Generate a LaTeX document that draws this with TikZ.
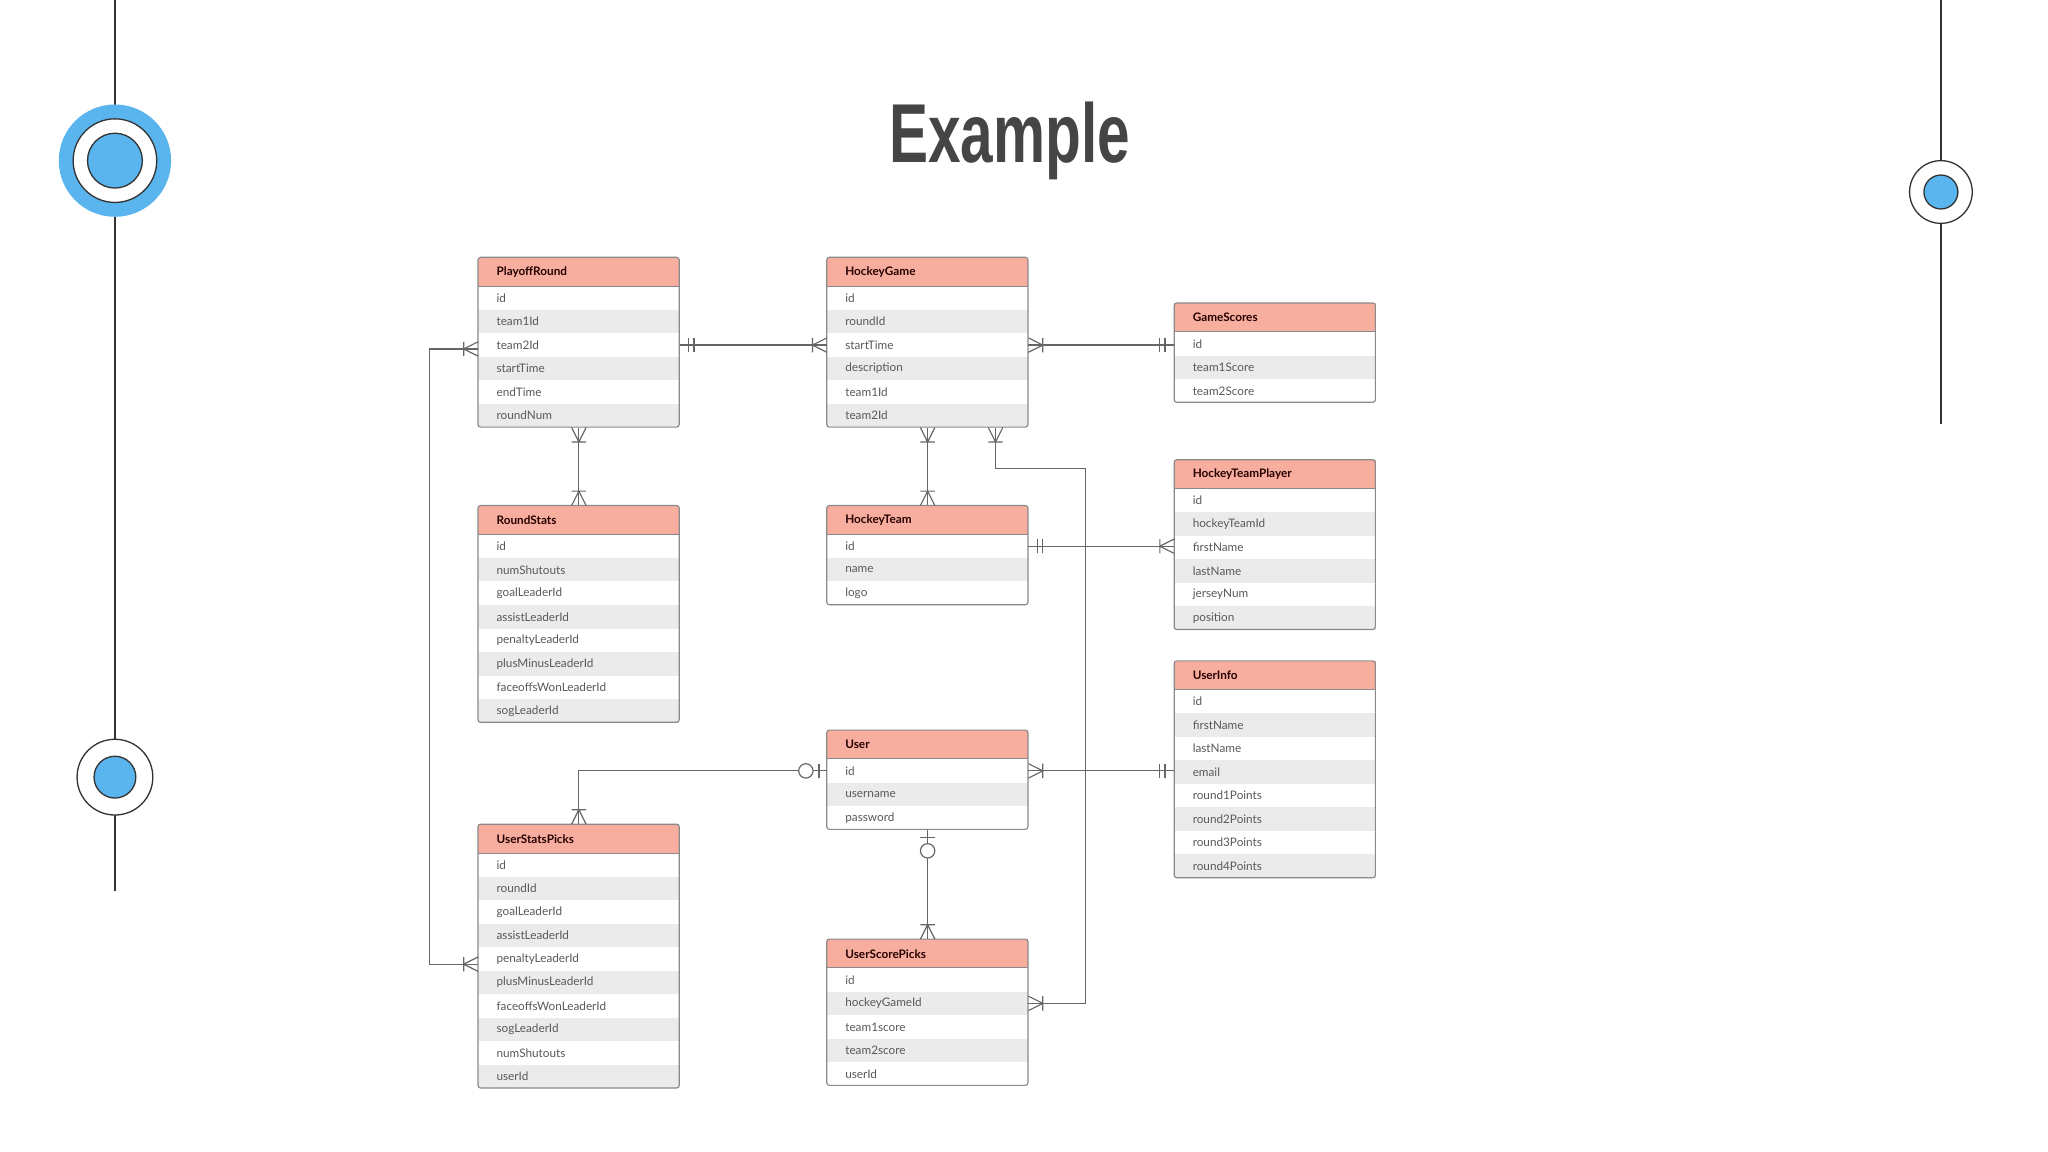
\documentclass[tikz,border=0pt]{standalone}
\usepackage{fontspec}
\setmainfont{Lato}
\newfontfamily\titlefont{Liberation Sans}
\definecolor{salmon}{HTML}{F7AE9E}
\definecolor{rowgray}{HTML}{EBEBEB}
\definecolor{bord}{HTML}{8A8A8A}
\definecolor{lnk}{HTML}{666666}
\definecolor{dec}{HTML}{333333}
\definecolor{blu}{HTML}{5AB4EE}
\definecolor{ttl}{HTML}{454545}
\tikzset{
 hdr/.style={anchor=north west,minimum width=154pt,minimum height=22pt,inner xsep=14pt,text width=126pt,inner ysep=0pt,fill=salmon,font=\fontsize{9}{10}\selectfont\bfseries,text=black!75!red!60!black},
 rowc/.style={anchor=north west,minimum width=154pt,minimum height=18pt,inner xsep=14pt,text width=126pt,inner ysep=0pt,font=\fontsize{9}{10}\selectfont,text=black!65},
 lk/.style={draw=lnk,line width=0.9pt},
}
\newcommand\ertable[5]{%
 \node[hdr] (#1) at (#2,#3) {#4};
 \foreach \t [count=\i] in {#5} {
   \ifodd\i\relax
     \node[rowc,fill=white] (#1-\i) at ({#2},{#3+22+(\i-1)*18}) {\t};
   \else
     \node[rowc,fill=rowgray] (#1-\i) at ({#2},{#3+22+(\i-1)*18}) {\t};
   \fi
   \xdef\nrows{\i}
 }
 \draw[bord,line width=0.6pt] (#2,#3+22) -- (#2+154,#3+22);
 \draw[bord,line width=0.9pt,rounded corners=2pt] (#2,#3) rectangle (#2+154,{#3+22+\nrows*18});
}
% notation: #1 point, #2 canvas angle pointing away from entity
\newcommand\crowm[2]{\begin{scope}[shift={#1},rotate=#2]
 \draw[lk] (0,5.5)--(11,0)--(0,-5.5) (11,5.5)--(11,-5.5);\end{scope}}
\newcommand\oneone[2]{\begin{scope}[shift={#1},rotate=#2]
 \draw[lk] (7,5.5)--(7,-5.5) (11,5.5)--(11,-5.5);\end{scope}}
\newcommand\zeroone[2]{\begin{scope}[shift={#1},rotate=#2]
 \draw[lk] (6,5.5)--(6,-5.5); \draw[lk,fill=white] (16,0) circle[radius=5.5pt];\end{scope}}
\begin{document}
\begin{tikzpicture}[x=1pt,y=-1pt]
\useasboundingbox (0,0) rectangle (1568,882);
\fill[white] (0,0) rectangle (1568,882);
% decorations
\draw[dec,line width=1pt] (88,0) -- (88,682);
\fill[blu] (88,123) circle[radius=43pt];
\draw[dec,fill=white,line width=1pt] (88,123) circle[radius=32pt];
\draw[dec,fill=blu,line width=1pt] (88,123) circle[radius=21pt];
\draw[dec,fill=white,line width=1pt] (88,595) circle[radius=29pt];
\draw[dec,fill=blu,line width=1pt] (88,595) circle[radius=16pt];
\draw[dec,line width=1pt] (1486,0) -- (1486,325);
\draw[dec,fill=white,line width=1pt] (1486,147) circle[radius=24pt];
\draw[dec,fill=blu,line width=1pt] (1486,147) circle[radius=13pt];
\node[text=ttl,font=\titlefont\bfseries\fontsize{64}{64}\selectfont] (title) at (773,108) {\scalebox{0.70}[1]{Example}};
% tables
\ertable{PR}{366}{197}{PlayoffRound}{id,team1Id,team2Id,startTime,endTime,roundNum}
\ertable{HG}{633}{197}{HockeyGame}{id,roundId,startTime,description,team1Id,team2Id}
\ertable{GS}{899}{232}{GameScores}{id,team1Score,team2Score}
\ertable{RS}{366}{387}{RoundStats}{id,numShutouts,goalLeaderId,assistLeaderId,penaltyLeaderId,plusMinusLeaderId,faceoffsWonLeaderId,sogLeaderId}
\ertable{HT}{633}{387}{HockeyTeam}{id,name,logo}
\ertable{HTP}{899}{352}{HockeyTeamPlayer}{id,hockeyTeamId,firstName,lastName,jerseyNum,position}
\ertable{UI}{899}{506}{UserInfo}{id,firstName,lastName,email,round1Points,round2Points,round3Points,round4Points}
\ertable{U}{633}{559}{User}{id,username,password}
\ertable{USP}{366}{631}{UserStatsPicks}{id,roundId,goalLeaderId,assistLeaderId,penaltyLeaderId,plusMinusLeaderId,faceoffsWonLeaderId,sogLeaderId,numShutouts,userId}
\ertable{USC}{633}{719}{UserScorePicks}{id,hockeyGameId,team1score,team2score,userId}
\coordinate (hgb) at ([xshift=52pt]HG-6.south);
% connectors
\draw[lk] (PR-3.east) -- (HG-3.west);
\oneone{(PR-3.east)}{0}\crowm{(HG-3.west)}{180}
\draw[lk] (HG-3.east) -- (HG-3.east -| GS-1.west);
\crowm{(HG-3.east)}{0}\oneone{(HG-3.east -| GS-1.west)}{180}
\draw[lk] (PR-6.south) -- (RS.north);
\crowm{(PR-6.south)}{-90}\crowm{(RS.north)}{90}
\draw[lk] (HG-6.south) -- (HT.north);
\crowm{(HG-6.south)}{-90}\crowm{(HT.north)}{90}
\draw[lk] (hgb) -- ++(0,31) -- ++(69,0) |- (USC-2.east);
\crowm{(hgb)}{-90}\crowm{(USC-2.east)}{0}
\draw[lk] (HT-1.east) -- (HT-1.east -| HTP-3.west);
\oneone{(HT-1.east)}{0}\crowm{(HT-1.east -| HTP-3.west)}{180}
\draw[lk] (U-1.east) -- (U-1.east -| UI-4.west);
\crowm{(U-1.east)}{0}\oneone{(U-1.east -| UI-4.west)}{180}
\draw[lk] (U-1.west) -| (USP.north);
\zeroone{(U-1.west)}{180}\crowm{(USP.north)}{90}
\draw[lk] (U-3.south) -- (USC.north);
\zeroone{(U-3.south)}{-90}\crowm{(USC.north)}{90}
\draw[lk] ([yshift=-3pt]PR-3.west) -- ++(-37,0) |- ([yshift=-4pt]USP-5.west);
\crowm{([yshift=-3pt]PR-3.west)}{180}\crowm{([yshift=-4pt]USP-5.west)}{180}
\end{tikzpicture}
\end{document}
